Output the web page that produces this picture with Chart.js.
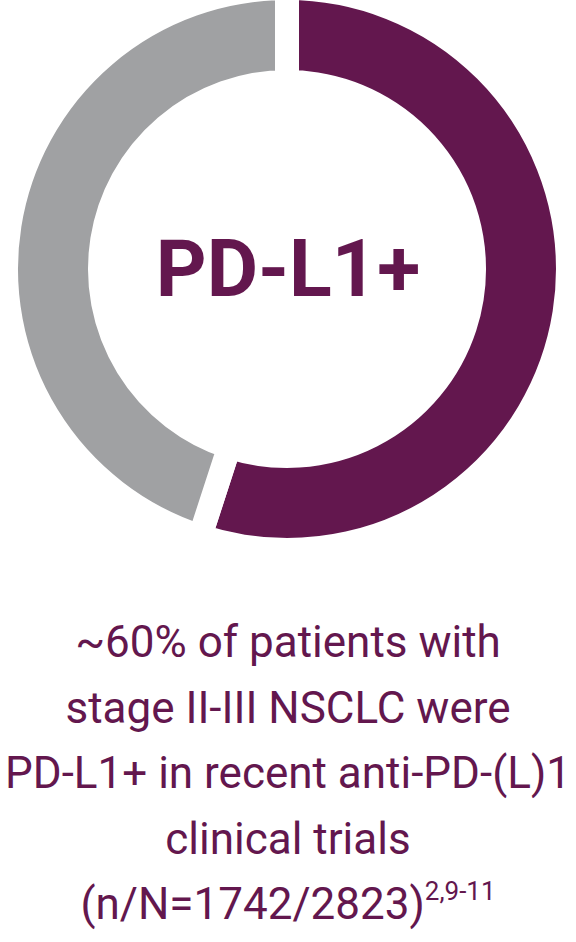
<!DOCTYPE html>
<html>
<head>
<meta charset="utf-8">
<script src="https://cdn.jsdelivr.net/npm/chart.js@4.4.1/dist/chart.umd.min.js"></script>
<style>
  html, body { margin: 0; padding: 0; background: #fff; width: 576px; height: 942px; overflow: hidden; }
  #wrap { position: absolute; left: -6px; top: -24px; width: 586px; height: 586px; }
  #center { position: absolute; left: 0; width: 576px; top: 229px; text-align: center;
    font-family: Roboto, sans-serif; font-weight: 700; font-size: 79px; line-height: 80px; color: #63174e; }
  #caption { position: absolute; left: 0; width: 576px; top: 610px; text-align: center;
    font-family: Roboto, sans-serif; font-weight: 400; font-size: 44px; line-height: 65.5px; color: #63174e; }
  #caption sup { font-size: 26px; line-height: 0; vertical-align: 0; position: relative; top: -19px; }
</style>
</head>
<body>
<div id="wrap"><canvas id="c"></canvas></div>
<div id="center">PD-L1+</div>
<div id="caption">~60% of patients with<br>stage II-III NSCLC were<br>PD-L1+ in recent anti-PD-(L)1<br>clinical trials<br>(n/N=1742/2823)<sup>2,9-11</sup></div>
<script>
const categories = ['PD-L1+', 'Other'];
const values = [55, 45];
const colors = ['#63174e', '#a0a1a3'];

new Chart(document.getElementById('c'), {
  type: 'doughnut',
  data: {
    labels: categories,
    datasets: [{
      data: values,
      backgroundColor: colors,
      hoverBackgroundColor: colors,
      borderColor: '#ffffff',
      hoverBorderColor: '#ffffff',
      borderWidth: 24,
      hoverBorderWidth: 24,
      borderAlign: 'center'
    }]
  },
  options: {
    responsive: true,
    maintainAspectRatio: false,
    animation: false,
    cutout: '66.55%',
    rotation: 0,
    layout: { padding: 0 },
    events: [],
    plugins: { legend: { display: false }, tooltip: { enabled: false } }
  }
});
</script>
</body>
</html>
